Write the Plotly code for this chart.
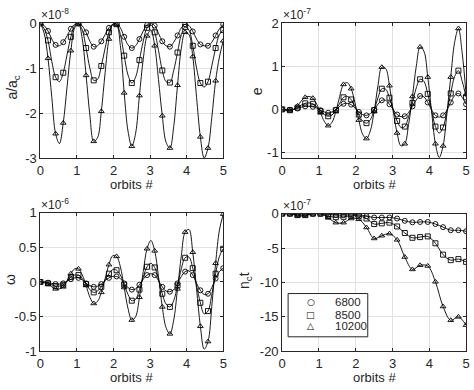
import plotly.graph_objects as go

# ---------------- data ----------------
# fine sampling (line) every 5/48 orbit; markers every other sample (5/24 orbit)
ORBITS_FINE = [i * 5 / 48 for i in range(49)]
ORBITS_MARK = [i * 5 / 24 for i in range(25)]
SERIES = ["6800", "8500", "10200"]

# a/a_c  (x1e-8)
A_6800 = [0, -0.05, -0.17, -0.35, -0.48, -0.5, -0.42, -0.28, -0.12, -0.02,
          0, -0.06, -0.2, -0.4, -0.52, -0.5, -0.4, -0.25, -0.1, -0.02,
          0, -0.1, -0.3, -0.48, -0.55, -0.5, -0.35, -0.17, -0.04, 0,
          -0.05, -0.22, -0.4, -0.5, -0.52, -0.42, -0.27, -0.1, -0.02, -0.05,
          -0.18, -0.35, -0.47, -0.5, -0.5, -0.42, -0.27, -0.12, -0.02]
A_8500 = [0, -0.12, -0.38, -0.85, -1.2, -1.3, -1.1, -0.7, -0.3, -0.05,
          0, -0.15, -0.55, -1.0, -1.27, -1.25, -0.95, -0.55, -0.2, -0.03,
          -0.02, -0.25, -0.72, -1.15, -1.33, -1.2, -0.82, -0.4, -0.1, -0.03,
          -0.2, -0.6, -1.05, -1.3, -1.32, -1.05, -0.65, -0.25, -0.08, -0.15,
          -0.5, -1.0, -1.33, -1.42, -1.3, -0.95, -0.55, -0.25, -0.15]
A_10200 = [0, -0.22, -0.78, -1.65, -2.46, -2.68, -2.22, -1.42, -0.61, -0.1,
           0, -0.35, -1.16, -2.05, -2.63, -2.55, -1.96, -1.1, -0.35, -0.02,
           -0.03, -0.5, -1.55, -2.4, -2.74, -2.45, -1.61, -0.8, -0.28, -0.15,
           -0.5, -1.25, -2.06, -2.65, -2.78, -2.3, -1.38, -0.55, -0.2, -0.25,
           -0.74, -1.65, -2.53, -3.0, -2.78, -2.1, -1.28, -0.75, -0.39]

# e  (x1e-7)
E_6800 = [0, -0.01, -0.01, 0, 0.02, 0.05, 0.07, 0.07, 0.06, 0.03,
          -0.02, -0.06, -0.08, -0.06, -0.01, 0.07, 0.13, 0.14, 0.11, 0.03,
          -0.06, -0.12, -0.14, -0.1, -0.01, 0.12, 0.21, 0.21, 0.12, -0.01,
          -0.12, -0.17, -0.16, -0.07, 0.07, 0.22, 0.31, 0.29, 0.16, -0.01,
          -0.14, -0.18, -0.14, -0.02, 0.16, 0.32, 0.37, 0.28, 0.12]
E_8500 = [0, -0.01, -0.02, 0, 0.04, 0.1, 0.14, 0.15, 0.13, 0.06,
          -0.04, -0.12, -0.16, -0.13, -0.02, 0.14, 0.28, 0.3, 0.23, 0.07,
          -0.12, -0.27, -0.32, -0.24, -0.02, 0.27, 0.48, 0.47, 0.27, -0.02,
          -0.27, -0.42, -0.4, -0.17, 0.15, 0.5, 0.7, 0.65, 0.36, -0.02,
          -0.4, -0.55, -0.42, -0.05, 0.37, 0.76, 0.9, 0.65, 0.28]
E_10200 = [0, -0.02, -0.03, 0, 0.08, 0.2, 0.28, 0.3, 0.26, 0.12,
           -0.08, -0.28, -0.38, -0.3, -0.05, 0.3, 0.58, 0.62, 0.48, 0.15,
           -0.25, -0.58, -0.68, -0.5, -0.05, 0.55, 0.98, 0.95, 0.55, -0.05,
           -0.55, -0.85, -0.8, -0.35, 0.3, 1.0, 1.45, 1.35, 0.75, -0.05,
           -0.8, -1.12, -0.85, -0.1, 0.75, 1.55, 1.88, 1.3, 0.35]

# omega  (x1e-6)
W_6800 = [0, 0, -0.01, -0.02, -0.03, -0.03, -0.02, 0.01, 0.04, 0.06,
          0.06, 0.03, -0.02, -0.05, -0.07, -0.06, -0.03, 0.02, 0.06, 0.08,
          0.08, 0.05, -0.02, -0.08, -0.11, -0.1, -0.04, 0.04, 0.1, 0.12,
          0.1, 0.02, -0.07, -0.13, -0.14, -0.11, -0.02, 0.08, 0.15, 0.16,
          0.1, -0.02, -0.12, -0.18, -0.17, -0.08, 0.05, 0.15, 0.2]
W_8500 = [0, 0, -0.02, -0.04, -0.06, -0.06, -0.04, 0.01, 0.07, 0.1,
          0.1, 0.05, -0.03, -0.11, -0.15, -0.13, -0.07, 0.03, 0.12, 0.18,
          0.17, 0.1, -0.04, -0.18, -0.27, -0.25, -0.11, 0.07, 0.22, 0.27,
          0.21, 0.04, -0.17, -0.32, -0.36, -0.27, -0.05, 0.19, 0.35, 0.36,
          0.2, -0.05, -0.3, -0.46, -0.42, -0.18, 0.12, 0.37, 0.48]
W_10200 = [0, -0.01, -0.03, -0.07, -0.1, -0.1, -0.07, 0.02, 0.12, 0.19,
           0.19, 0.1, -0.05, -0.22, -0.31, -0.28, -0.15, 0.05, 0.25, 0.38,
           0.37, 0.22, -0.08, -0.38, -0.55, -0.5, -0.22, 0.15, 0.48, 0.6,
           0.45, 0.08, -0.36, -0.66, -0.75, -0.55, -0.1, 0.38, 0.72, 0.76,
           0.43, -0.1, -0.64, -0.97, -0.86, -0.35, 0.27, 0.75, 0.98]

# n_c t  (x1e-7), sampled at marker positions
N_6800 = [0, 0, -0.05, -0.05, 0, 0, -0.1, -0.2, -0.2, -0.15, -0.15, -0.35, -0.55,
          -0.55, -0.55, -0.7, -1.03, -1.25, -1.2, -1.2, -1.5, -1.95, -2.4, -2.4, -2.55]
N_8500 = [0, 0, -0.2, -0.2, 0, 0, -0.35, -0.5, -0.45, -0.3, -0.3, -0.7, -1.5,
          -1.4, -1.3, -1.85, -2.8, -3.5, -3.4, -3.3, -4.3, -5.95, -6.75, -6.6, -7.0]
N_10200 = [0, 0, -0.3, -0.3, 0, 0, -0.6, -1.3, -1.3, -0.7, -0.8, -2.0, -3.6,
           -3.2, -2.9, -3.8, -6.3, -8.1, -7.5, -7.6, -9.9, -13.5, -15.5, -15.0, -16.2]

X_TICKS = [0, 1, 2, 3, 4, 5]
Y1_TICKS = [0, -1, -2, -3]
Y2_TICKS = [-1, 0, 1, 2]
Y3_TICKS = [-1, -0.5, 0, 0.5, 1]
Y4_TICKS = [-20, -15, -10, -5, 0]

# ---------------- styling ----------------
W, H = 474, 390
FONT = "Liberation Sans, Arial, sans-serif"
AX = "#262626"
GRID = "#e2e2e2"
SYMBOLS = ["circle-open", "square-open", "triangle-up-open"]
LEG_GLYPHS = ["\u25cb", "\u25a1", "\u25b3"]


def px_x(p):
    return p / W


def px_y(p):
    return 1 - p / H


def lab(v):
    return "%g" % v


fig = go.Figure()

panels = [
    (1, ORBITS_FINE, [A_6800, A_8500, A_10200], True),
    (2, ORBITS_FINE, [E_6800, E_8500, E_10200], True),
    (3, ORBITS_FINE, [W_6800, W_8500, W_10200], True),
    (4, ORBITS_MARK, [N_6800, N_8500, N_10200], False),
]

for idx, xs, ys_list, fine in panels:
    xa = "x" if idx == 1 else "x%d" % idx
    ya = "y" if idx == 1 else "y%d" % idx
    for k, ys in enumerate(ys_list):
        fig.add_trace(go.Scatter(x=xs, y=ys, mode="lines", xaxis=xa, yaxis=ya,
                                 line=dict(color="black", width=0.9, shape="spline", smoothing=1.0),
                                 showlegend=False, hoverinfo="skip"))
        mx = xs[::2] if fine else xs
        my = ys[::2] if fine else ys
        fig.add_trace(go.Scatter(x=mx, y=my, mode="markers", xaxis=xa, yaxis=ya, name=SERIES[k],
                                 marker=dict(symbol=SYMBOLS[k], size=5, color="black",
                                             line=dict(color="black", width=0.9)),
                                 showlegend=False))

# domains (pixels)
L1, R1 = 37, 223
L2, R2 = 283, 470
T_TOP, B_TOP = 17, 157
T_BOT, B_BOT = 214, 358


def xaxis(l, r, anchor):
    return dict(domain=[px_x(l), px_x(r)], range=[0, 5], anchor=anchor,
                tickvals=X_TICKS, ticktext=[lab(v) for v in X_TICKS],
                showgrid=True, gridcolor=GRID, gridwidth=1, zeroline=False,
                showline=True, linecolor=AX, linewidth=1, mirror="ticks",
                ticks="inside", ticklen=3, tickcolor=AX,
                tickfont=dict(family=FONT, size=13, color=AX))


def yaxis(t, b, rng, ticks, anchor):
    return dict(domain=[px_y(b), px_y(t)], range=rng, anchor=anchor,
                tickvals=ticks, ticktext=[lab(v) for v in ticks],
                showgrid=True, gridcolor=GRID, gridwidth=1, zeroline=False,
                showline=True, linecolor=AX, linewidth=1, mirror="ticks",
                ticks="inside", ticklen=3, tickcolor=AX,
                tickfont=dict(family=FONT, size=13, color=AX))


fig.update_layout(
    width=W, height=H,
    margin=dict(l=0, r=0, t=0, b=0),
    paper_bgcolor="white", plot_bgcolor="white",
    font=dict(family=FONT, color=AX),
    xaxis=xaxis(L1, R1, "y"),
    yaxis=yaxis(T_TOP, B_TOP, [-3, 0], Y1_TICKS, "x"),
    xaxis2=xaxis(L2, R2, "y2"),
    yaxis2=yaxis(T_TOP, B_TOP, [-1.13, 2], Y2_TICKS, "x2"),
    xaxis3=xaxis(L1, R1, "y3"),
    yaxis3=yaxis(T_BOT, B_BOT, [-1, 1], Y3_TICKS, "x3"),
    xaxis4=xaxis(L2, R2, "y4"),
    yaxis4=yaxis(T_BOT + 1, B_BOT, [-20, 0], Y4_TICKS, "x4"),
    showlegend=False,
)

ann = []
# exponent labels
for x0, ytop, e in [(L1, T_TOP, "-8"), (L2, T_TOP, "-7"), (L1, T_BOT, "-6"), (L2, T_BOT + 1, "-7")]:
    ann.append(dict(x=px_x(x0 - 1), y=px_y(ytop + 1), xref="paper", yref="paper",
                    xanchor="left", yanchor="bottom", showarrow=False,
                    text="\u00d710<sup>%s</sup>" % e, font=dict(family=FONT, size=12, color=AX)))
# x titles
for xc, yc in [((L1 + R1) / 2, 185), ((L2 + R2) / 2, 185), ((L1 + R1) / 2, 385), ((L2 + R2) / 2, 385)]:
    ann.append(dict(x=px_x(xc), y=px_y(yc), xref="paper", yref="paper",
                    xanchor="center", yanchor="middle", showarrow=False,
                    text="orbits #", font=dict(family=FONT, size=13, color=AX)))
# y titles
for xc, yc, t in [(9, 84, "a/a<sub>c</sub>"), (257, 88, "e"), (6, 283, "\u03c9"), (245, 284, "n<sub>c</sub>t")]:
    ann.append(dict(x=px_x(xc), y=px_y(yc), xref="paper", yref="paper",
                    xanchor="center", yanchor="middle", showarrow=False, textangle=-90,
                    text=t, font=dict(family=FONT, size=14, color=AX)))

# legend box (panel 4)
LEG_L, LEG_R, LEG_T, LEG_B = 289, 370, 298, 343
LEG_ROWS = [307, 320, 332]
fig.add_shape(type="rect", xref="paper", yref="paper",
              x0=px_x(LEG_L), x1=px_x(LEG_R), y0=px_y(LEG_B), y1=px_y(LEG_T),
              line=dict(color=AX, width=1), fillcolor="white", layer="above")
for k, name in enumerate(SERIES):
    ann.append(dict(x=px_x(312), y=px_y(LEG_ROWS[k]), xref="paper", yref="paper",
                    xanchor="center", yanchor="middle", showarrow=False,
                    text=LEG_GLYPHS[k], font=dict(family="DejaVu Sans", size=9, color="black")))
    ann.append(dict(x=px_x(335), y=px_y(LEG_ROWS[k]), xref="paper", yref="paper",
                    xanchor="left", yanchor="middle", showarrow=False,
                    text=name, font=dict(family=FONT, size=11.5, color=AX)))
fig.update_layout(annotations=ann)

fig.write_html("out.html", config={"displayModeBar": False},
               post_script="document.body.style.margin='0px';")
